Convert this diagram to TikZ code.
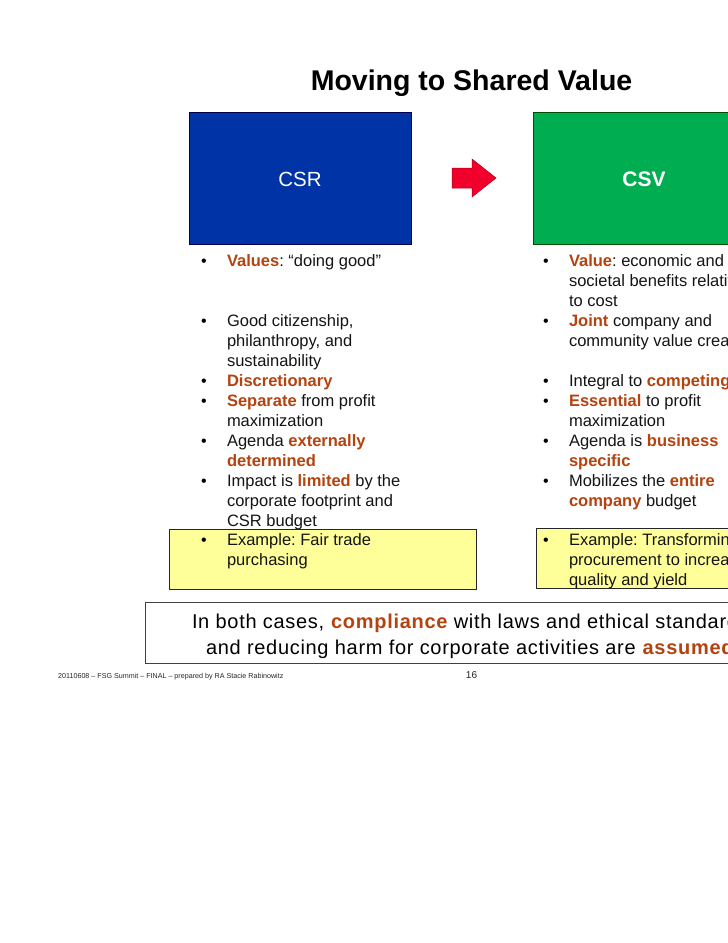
\documentclass[tikz,border=0pt]{standalone}
\usepackage{fontspec}
\setmainfont{Liberation Sans}
\newfontfamily\stmtfont[LetterSpace=3.5]{Liberation Sans}
\frenchspacing
\definecolor{csrblue}{HTML}{0033A6}
\definecolor{csvgreen}{HTML}{00AD50}
\definecolor{accent}{HTML}{B5430F}
\definecolor{notey}{HTML}{FFFF99}
\definecolor{arrowred}{HTML}{F0002A}
\newcommand{\hl}[1]{\textbf{\textcolor{accent}{#1}}}
\tikzset{
  x=1pt,y=-1pt,
  txt/.style={anchor=base west,inner sep=0pt,outer sep=0pt,font=\fontsize{16.5}{20}\selectfont,text=black!92},
  bul/.style={anchor=base,inner sep=0pt,outer sep=0pt,font=\fontsize{16}{20}\selectfont},
  head/.style={draw=black!70!blue,line width=0.6pt,inner sep=0pt,anchor=north west},
  note/.style={draw=black!85,line width=0.7pt,fill=notey},
  stmt/.style={anchor=base west,inner sep=0pt,outer sep=0pt,font=\fontsize{20}{24}\stmtfont},
}
\begin{document}
\begin{tikzpicture}
\useasboundingbox (0,0) rectangle (728,943);
\clip (0,0) rectangle (728,943);
\fill[white] (0,0) rectangle (728,943);
\node[anchor=base,inner sep=0pt,font=\fontsize{28.5}{32}\selectfont\bfseries] (title) at (471.5,90) {Moving to Shared Value};
% header boxes
\node[head,fill=csrblue,minimum width=221.5pt,minimum height=131.5pt] (csr) at (189,112) {};
\node[anchor=center,inner sep=0pt,text=white,font=\fontsize{20.5}{24}\selectfont] (csrt) at (300,179) {CSR};
\node[head,fill=csvgreen,draw=black!70!green,minimum width=240pt,minimum height=131.5pt] (csv) at (533,112) {};
\node[anchor=center,inner sep=0pt,text=white,font=\fontsize{21}{24}\selectfont\bfseries] (csvt) at (644,179) {CSV};
\draw[fill=arrowred,draw=arrowred!70!black,line width=0.5pt] (452,168) -- (472,168) -- (472,159) -- (496,178) -- (472,197) -- (472,188) -- (452,188) -- cycle;
% note boxes
\node[note,anchor=north west,inner sep=0pt,minimum width=307.5pt,minimum height=60pt] (noteL) at (168.5,529) {};
\node[note,anchor=north west,inner sep=0pt,minimum width=240pt,minimum height=60pt] (noteR) at (536.2,528) {};
\node[draw=black!75,line width=0.8pt,anchor=north west,inner sep=0pt,minimum width=640pt,minimum height=60.5pt] (stmtbox) at (145,602) {};
% left column
\node[bul] (bl1) at (204,266) {•};
\node[txt] (l1) at (227,266) {\hl{Values}: “doing good”};
\node[bul] (bl2) at (204,326) {•};
\node[txt] (l2) at (227,326) {Good citizenship,};
\node[txt] (l3) at (227,346) {philanthropy, and};
\node[txt] (l4) at (227,366) {sustainability};
\node[bul] (bl3) at (204,386) {•};
\node[txt] (l5) at (227,386) {\hl{Discretionary}};
\node[bul] (bl4) at (204,406) {•};
\node[txt] (l6) at (227,406) {\hl{Separate} from profit};
\node[txt] (l7) at (227,426) {maximization};
\node[bul] (bl5) at (204,446) {•};
\node[txt] (l8) at (227,446) {Agenda \hl{externally}};
\node[txt] (l9) at (227,466) {\hl{determined}};
\node[bul] (bl6) at (204,486) {•};
\node[txt] (l10) at (227,486) {Impact is \hl{limited} by the};
\node[txt] (l11) at (227,506) {corporate footprint and};
\node[txt] (l12) at (227,526) {CSR budget};
\node[bul] (bl7) at (204,545.5) {•};
\node[txt] (l13) at (227,545.5) {Example: Fair trade};
\node[txt] (l14) at (227,565.5) {purchasing};
% right column
\node[bul] (br1) at (546,266) {•};
\node[txt] (r1) at (569,266) {\hl{Value}: economic and};
\node[txt] (r2) at (569,286) {societal benefits relative};
\node[txt] (r3) at (569,306) {to cost};
\node[bul] (br2) at (546,326) {•};
\node[txt] (r4) at (569,326) {\hl{Joint} company and};
\node[txt] (r5) at (569,346) {community value creation};
\node[bul] (br3) at (546,386) {•};
\node[txt] (r6) at (569,386) {Integral to \hl{competing}};
\node[bul] (br4) at (546,406) {•};
\node[txt] (r7) at (569,406) {\hl{Essential} to profit};
\node[txt] (r8) at (569,426) {maximization};
\node[bul] (br5) at (546,446) {•};
\node[txt] (r9) at (569,446) {Agenda is \hl{business}};
\node[txt] (r10) at (569,466) {\hl{specific}};
\node[bul] (br6) at (546,486) {•};
\node[txt] (r11) at (569,486) {Mobilizes the \hl{entire}};
\node[txt] (r12) at (569,506) {\hl{company} budget};
\node[bul] (br7) at (546,545.5) {•};
\node[txt] (r13) at (569,545.5) {Example: Transforming};
\node[txt] (r14) at (569,565.5) {procurement to increase};
\node[txt] (r15) at (569,585.5) {quality and yield};
% statement
\node[stmt] (s1) at (192,628) {In both cases, \textbf{\textcolor{accent}{compliance}} with laws and ethical standards};
\node[stmt] (s2) at (206,654) {and reducing harm for corporate activities are \textbf{\textcolor{accent}{assumed}}};
% footer
\node[anchor=base west,inner sep=0pt,font=\fontsize{7.15}{9}\selectfont,text=black!85] (foot) at (58,678) {20110608 – FSG Summit – FINAL – prepared by RA Stacie Rabinowitz};
\node[anchor=base,inner sep=0pt,font=\fontsize{10}{12}\selectfont,text=black!85] (page) at (471.5,678) {16};
\end{tikzpicture}
\end{document}
